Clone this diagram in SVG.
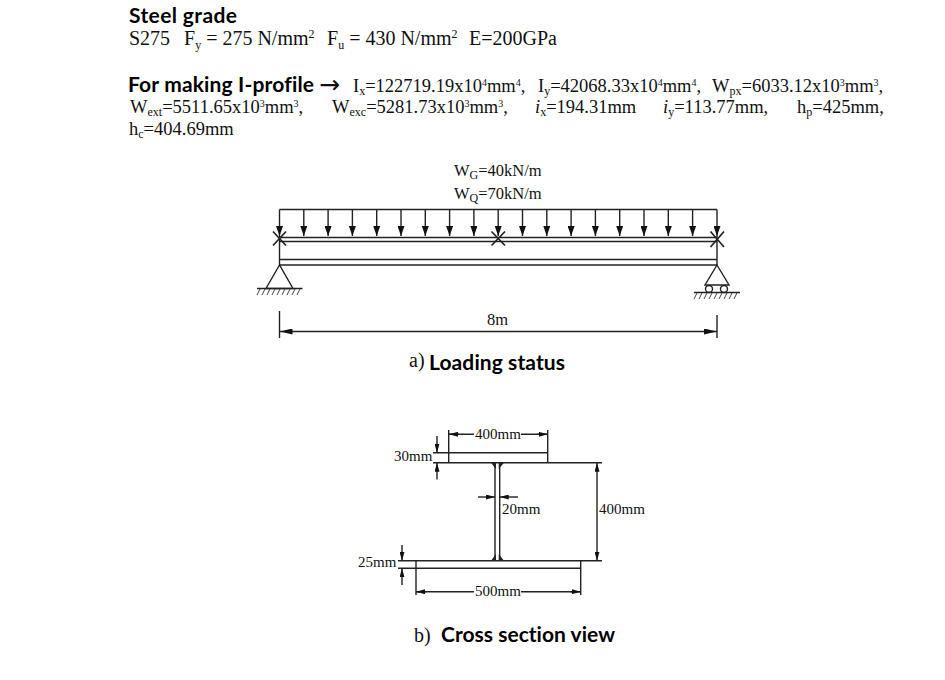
<svg xmlns="http://www.w3.org/2000/svg" width="945" height="680" viewBox="0 0 945 680">
<style>
.t{font-family:"Liberation Serif","Times New Roman",serif;font-size:18.500px;fill:#111}
.t2{font-family:"Liberation Serif","Times New Roman",serif;font-size:20px;fill:#111}
.d{font-family:"Liberation Serif","Times New Roman",serif;font-size:15px;fill:#111}
.d2{font-family:"Liberation Serif","Times New Roman",serif;font-size:16.500px;fill:#111}
.b{font-family:Lato,"Liberation Sans",sans-serif;font-weight:700;font-size:21px;fill:#000;font-variant-ligatures:none}
.s{font-size:12px}
.n{font-size:10px}
.l{fill:none;stroke:#222;stroke-width:1.4}
.h{fill:none;stroke:#444;stroke-width:1}
</style>
<defs>
<marker id="ah" markerUnits="userSpaceOnUse" markerWidth="10" markerHeight="7" refX="10" refY="3.500" orient="auto" viewBox="0 0 10 7"><path d="M0 0L10 3.500L0 7Z" fill="#111"/></marker>
<marker id="am" markerUnits="userSpaceOnUse" markerWidth="13" markerHeight="6" refX="13" refY="3" orient="auto-start-reverse" viewBox="0 0 13 6"><path d="M0 0L13 3L0 6Z" fill="#111"/></marker>
<marker id="as" markerUnits="userSpaceOnUse" markerWidth="9" markerHeight="5" refX="9" refY="2.500" orient="auto-start-reverse" viewBox="0 0 9 5"><path d="M0 0L9 2.500L0 5Z" fill="#111"/></marker>
<path id="hatch" d="M3 0L0 6M8 0L5 6M13 0L10 6M18 0L15 6M23 0L20 6M28 0L25 6M33 0L30 6M38 0L35 6M43 0L40 6"/>
</defs>

<g id="header">
<text class="b" x="129" y="22.500" textLength="108">Steel grade</text>
<text class="t2" x="129" y="45">S275</text>
<text class="t2" x="184" y="45">F<tspan class="s" dy="4">y</tspan><tspan dy="-4"> = 275 N/mm</tspan><tspan class="s" dy="-7">2</tspan></text>
<text class="t2" x="327" y="45">F<tspan class="s" dy="4">u</tspan><tspan dy="-4"> = 430 N/mm</tspan><tspan class="s" dy="-7">2</tspan></text>
<text class="t2" x="469" y="45">E=200GPa</text>
<text class="b" x="128" y="92" textLength="186">For making I-profile</text>
<text x="319" y="93" style="font-family:'DejaVu Sans',sans-serif;font-size:25px;fill:#111">→</text>
<text class="t" x="353" y="92">I<tspan class="s" dy="3">x</tspan><tspan dy="-3">=122719.19x10</tspan><tspan class="n" dy="-6">4</tspan><tspan dy="6">mm</tspan><tspan class="n" dy="-6">4</tspan><tspan dy="6">,</tspan></text>
<text class="t" x="538" y="92">I<tspan class="s" dy="3">y</tspan><tspan dy="-3">=42068.33x10</tspan><tspan class="n" dy="-6">4</tspan><tspan dy="6">mm</tspan><tspan class="n" dy="-6">4</tspan><tspan dy="6">,</tspan></text>
<text class="t" x="712" y="92">W<tspan class="s" dy="3">px</tspan><tspan dy="-3">=6033.12x10</tspan><tspan class="n" dy="-6">3</tspan><tspan dy="6">mm</tspan><tspan class="n" dy="-6">3</tspan><tspan dy="6">,</tspan></text>
<text class="t" x="130" y="113">W<tspan class="s" dy="3">ext</tspan><tspan dy="-3">=5511.65x10</tspan><tspan class="n" dy="-6">3</tspan><tspan dy="6">mm</tspan><tspan class="n" dy="-6">3</tspan><tspan dy="6">,</tspan></text>
<text class="t" x="332" y="113">W<tspan class="s" dy="3">exc</tspan><tspan dy="-3">=5281.73x10</tspan><tspan class="n" dy="-6">3</tspan><tspan dy="6">mm</tspan><tspan class="n" dy="-6">3</tspan><tspan dy="6">,</tspan></text>
<text class="t" x="535" y="113"><tspan font-style="italic">i</tspan><tspan class="s" dy="3">x</tspan><tspan dy="-3">=194.31mm</tspan></text>
<text class="t" x="663" y="113"><tspan font-style="italic">i</tspan><tspan class="s" dy="3">y</tspan><tspan dy="-3">=113.77mm,</tspan></text>
<text class="t" x="797" y="113">h<tspan class="s" dy="3">p</tspan><tspan dy="-3">=425mm,</tspan></text>
<text class="t" x="129" y="135">h<tspan class="s" dy="3">c</tspan><tspan dy="-3">=404.69mm</tspan></text>
</g>

<g id="connectors">
<path class="l" d="M279.500 209.500H717"/>
<g class="l">
<path d="M279.500 209.500V236" marker-end="url(#ah)"/><path d="M303.800 209.500V236" marker-end="url(#ah)"/><path d="M328.100 209.500V236" marker-end="url(#ah)"/><path d="M352.400 209.500V236" marker-end="url(#ah)"/><path d="M376.700 209.500V236" marker-end="url(#ah)"/><path d="M401 209.500V236" marker-end="url(#ah)"/><path d="M425.300 209.500V236" marker-end="url(#ah)"/><path d="M449.600 209.500V236" marker-end="url(#ah)"/><path d="M473.900 209.500V236" marker-end="url(#ah)"/><path d="M498.200 209.500V236" marker-end="url(#ah)"/><path d="M522.500 209.500V236" marker-end="url(#ah)"/><path d="M546.800 209.500V236" marker-end="url(#ah)"/><path d="M571.100 209.500V236" marker-end="url(#ah)"/><path d="M595.400 209.500V236" marker-end="url(#ah)"/><path d="M619.700 209.500V236" marker-end="url(#ah)"/><path d="M644 209.500V236" marker-end="url(#ah)"/><path d="M668.300 209.500V236" marker-end="url(#ah)"/><path d="M692.600 209.500V236" marker-end="url(#ah)"/><path d="M717 209.500V236" marker-end="url(#ah)"/>
</g>
<path class="l" d="M279.500 237.500H717M279.500 241.500H717M279.500 259.500H717M279.500 265H717M279.500 236V265M717 236V265"/>
<path class="l" style="stroke-width:1.700" d="M273 231.500L286 245.500M286 231.500L273 245.500M491.500 231.500L505 245.500M505 231.500L491.500 245.500M710.500 231.500L724 247M724 231.500L710.500 247"/>
<path class="l" d="M279.500 311V338M717 315V338"/>
<path class="l" d="M279.500 331.500H717" marker-start="url(#am)" marker-end="url(#am)"/>

<path class="l" d="M433 452.700H547.700M433 462.700H602M398 560.700H602M398 568.300H580.700M495 462.700V560.700M499.700 462.700V560.700"/>
<path class="l" d="M448.700 430V462.700M547.700 430V462.700M416 560.700V595M580.700 560.700V595"/>
<path class="l" d="M449 434.300H474M521 434.300H547.700M416 591.700H474M521 591.700H580.700"/>
<path class="l" d="M449 434.300H459" marker-start="url(#as)"/><path class="l" d="M537 434.300H547.700" marker-end="url(#as)"/>
<path class="l" d="M416 591.700H426" marker-start="url(#as)"/><path class="l" d="M570 591.700H580.700" marker-end="url(#as)"/>
<path class="l" d="M597 462.700V560.700" marker-start="url(#as)" marker-end="url(#as)"/>
<path class="l" d="M437 436V452.700" marker-end="url(#as)"/><path class="l" d="M437 479.500V462.700" marker-end="url(#as)"/>
<path class="l" d="M402 545V560.700" marker-end="url(#as)"/><path class="l" d="M402 585V568.300" marker-end="url(#as)"/>
<path class="l" d="M478 497H495" marker-end="url(#as)"/><path class="l" d="M518 497H499.700" marker-end="url(#as)"/>
<path d="M491 462.700H496V469ZM498.700 462.700H504L498.700 469ZM491 560.700H496V554ZM498.700 560.700H504L498.700 554Z" fill="#222"/>
</g>

<g id="load-labels">
<text class="d2" x="454" y="176">W<tspan class="s" dy="3">G</tspan><tspan dy="-3">=40kN/m</tspan></text>
<text class="d2" x="454" y="199">W<tspan class="s" dy="3">Q</tspan><tspan dy="-3">=70kN/m</tspan></text>
<text class="d2" x="487" y="325">8m</text>
</g>

<g id="support-left">
<path class="l" d="M279.500 265L266 288.500H293Z"/>
<path class="l" d="M257 288.500H302.500"/>
<use href="#hatch" x="257" y="289" class="h"/>
</g>

<g id="support-right">
<path class="l" d="M717 265L705 285H729Z"/>
<circle class="l" cx="709" cy="289" r="3.500"/>
<circle class="l" cx="724" cy="289" r="3.500"/>
<path class="l" d="M694 292.500H740"/>
<use href="#hatch" x="694" y="293" class="h"/>
</g>

<g id="caption-a">
<text class="t2" x="409" y="367">a)</text>
<text class="b" x="429" y="370" textLength="136">Loading status</text>
</g>

<g id="section-labels">
<text class="d" x="475" y="439">400mm</text>
<text class="d" x="394" y="461">30mm</text>
<text class="d" x="502" y="514">20mm</text>
<text class="d" x="599" y="514">400mm</text>
<text class="d" x="358" y="567">25mm</text>
<text class="d" x="475" y="596">500mm</text>
</g>

<g id="caption-b">
<text class="t2" x="414" y="642">b)</text>
<text class="b" x="441" y="642" textLength="174">Cross section view</text>
</g>
</svg>
